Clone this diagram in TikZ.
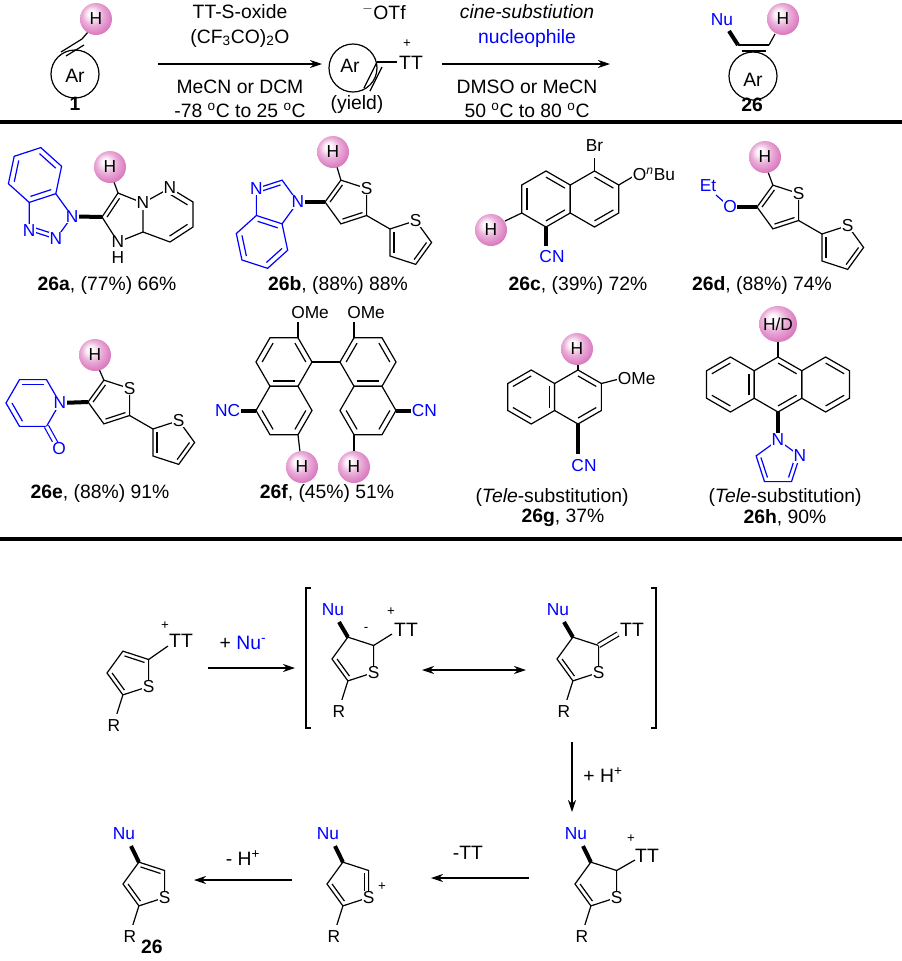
\documentclass[tikz,border=0pt]{standalone}
\usepackage{fontspec}
\setmainfont{Liberation Sans}
\usetikzlibrary{calc,arrows.meta}
\definecolor{hpink}{RGB}{222,130,196}
\definecolor{nblue}{RGB}{0,0,255}
\pgfdeclareradialshading{hbal}{\pgfpoint{-8bp}{9bp}}{color(0bp)=(white); color(6bp)=(white!92!hpink); color(16bp)=(hpink!65!white); color(26bp)=(hpink); color(33bp)=(hpink!88!black); color(50bp)=(hpink!88!black)}
\newcommand\fs{\fontsize{14.5}{17}\selectfont}
\newcommand\fa{\fontsize{13}{15}\selectfont}
\newcommand\fp{\fontsize{10}{12}\selectfont}
\tikzset{bd/.style={line width=0.9pt},bold/.style={line width=3pt},
 atom/.style={fill=white,inner sep=0.5pt,font=\fa},
 batom/.style={atom,text=nblue},
 lab/.style={inner sep=0pt,font=\fs},
 plus/.style={inner sep=0pt,font=\fp},
 rx/.style={line width=0.9pt,-{Stealth[length=9pt,width=6pt]}},
 dbb/.style={line width=0.9pt,double=white,double distance=2.4pt}}
\newcommand\pc[5]{\coordinate (#1) at ($(#2,#3)+(#5:#4)$);}
\newcommand\dbl[4][]{\draw[bd,#1] ($(#2)!0.22!(#4)$) -- ($(#3)!0.22!(#4)$);}
\newcommand\hball[4]{\shade[shading=hbal] (#2,#3) circle (16);\node[lab,font=\fa] (#1) at (#2,#3) {#4};}
\newcommand\hexP[5][]{\coordinate (#2c) at (#3,#4);
 \pc{#21}{#3}{#4}{#5}{-90}\pc{#22}{#3}{#4}{#5}{-30}\pc{#23}{#3}{#4}{#5}{30}
 \pc{#24}{#3}{#4}{#5}{90}\pc{#25}{#3}{#4}{#5}{150}\pc{#26}{#3}{#4}{#5}{210}
 \draw[bd,#1] (#21)--(#22)--(#23)--(#24)--(#25)--(#26)--cycle;}
\newcommand\hexF[5][]{\coordinate (#2c) at (#3,#4);
 \pc{#21}{#3}{#4}{#5}{0}\pc{#22}{#3}{#4}{#5}{60}\pc{#23}{#3}{#4}{#5}{120}
 \pc{#24}{#3}{#4}{#5}{180}\pc{#25}{#3}{#4}{#5}{240}\pc{#26}{#3}{#4}{#5}{300}
 \draw[bd,#1] (#21)--(#22)--(#23)--(#24)--(#25)--(#26)--cycle;}
\newcommand\thA[3]{\coordinate (#1c) at (#2,#3);
 \pc{#1C3}{#2}{#3}{23}{180}\pc{#1C2}{#2}{#3}{23}{252}\pc{#1S}{#2}{#3}{23}{324}
 \pc{#1C5}{#2}{#3}{23}{36}\pc{#1C4}{#2}{#3}{23}{108}
 \draw[bd] (#1C3)--(#1C2)--(#1S)--(#1C5)--(#1C4)--cycle;
 \dbl{#1C2}{#1C3}{#1c}\dbl{#1C4}{#1C5}{#1c}}
\newcommand\thB[3]{\coordinate (#1c) at (#2,#3);
 \pc{#1C2}{#2}{#3}{23}{-144}\pc{#1S}{#2}{#3}{23}{-72}\pc{#1C5}{#2}{#3}{23}{0}
 \pc{#1C4}{#2}{#3}{23}{72}\pc{#1C3}{#2}{#3}{23}{144}
 \draw[bd] (#1C2)--(#1S)--(#1C5)--(#1C4)--(#1C3)--cycle;
 \dbl{#1C2}{#1C3}{#1c}\dbl{#1C4}{#1C5}{#1c}}
\newcommand\thM[3]{\coordinate (#1c) at (#2,#3);
 \pc{#1S}{#2}{#3}{23}{36}\pc{#1C2}{#2}{#3}{23}{-36}\pc{#1C3}{#2}{#3}{23}{-108}
 \pc{#1C4}{#2}{#3}{23}{180}\pc{#1C5}{#2}{#3}{23}{108}
 \draw[bd] (#1S)--(#1C2)--(#1C3)--(#1C4)--(#1C5)--cycle;
 \dbl{#1C4}{#1C5}{#1c}
 \draw[bd] (#1C5)--++(-6,19);
 \node[lab,font=\fa] (#1R) at ($(#1C5)+(-9,31)$) {R};}
\begin{document}
\begin{tikzpicture}[x=0.75pt,y=-0.75pt]
\useasboundingbox (0,0) rectangle (902,961);
\fill[white] (0,0) rectangle (902,961);
% ---------------- top scheme
\draw[bd] (75,74) circle (24);
\node[lab] (ar1) at (75,76) {Ar};
\draw[bd] (61,52)--(82,39);
\draw[bd] (66,56)--(84,45);
\draw[bd] (82,39)--(88,32);
\hball{h1}{96}{19}{H}
\node[lab,font=\fs\bfseries] (c1) at (75,104) {1};
\coordinate (a1s) at (158,64); \coordinate (a1e) at (322,64);
\draw[rx] (a1s)--(a1e);
\node[lab] (t1) at (240,12) {TT-S-oxide};
\node[lab] (t2) at (240,38) {(CF\textsubscript{3}CO)\textsubscript{2}O};
\node[lab] (t3) at (240,87) {MeCN or DCM};
\node[lab] (t4) at (240,110) {-78 \textsuperscript{o}C to 25 \textsuperscript{o}C};
\draw[bd] (353,68) circle (24);
\node[lab] (ar2) at (350,66) {Ar};
\draw[bd] (364,88)--(377,62);
\draw[bd] (370,91)--(382,67);
\draw[bd] (377,62)--(397,62);
\node[lab] (tt1) at (411,63) {TT};
\node[plus] (pl1) at (407,44) {+};
\node[lab] (otf) at (384,12) {$^{-}$OTf};
\node[lab] (yld) at (357,104) {(yield)};
\coordinate (a2s) at (442,64); \coordinate (a2e) at (610,64);
\draw[rx] (a2s)--(a2e);
\node[lab] (t5) at (527,12) {\itshape cine-substiution};
\node[lab,nblue] (t6) at (527,38) {nucleophile};
\node[lab] (t7) at (527,87) {DMSO or MeCN};
\node[lab] (t8) at (527,110) {50 \textsuperscript{o}C to 80 \textsuperscript{o}C};
\draw[bd] (753,76) circle (24);
\node[lab] (ar3) at (753,80) {Ar};
\draw[bd] (738,45)--(769,45);
\draw[bd] (742,51)--(766,51);
\draw[bold] (738,45)--(729,31);
\node[lab,nblue,font=\fa] (nu0) at (722,20) {Nu};
\draw[bd] (769,45)--(775,34);
\hball{h2}{783}{19}{H}
\node[lab,font=\fs\bfseries] (c26t) at (752,105) {26};
\draw[line width=2.4pt] (0,122)--(902,122);
% ---------------- 26a
\coordinate (aB1) at (55.8,193.7); \coordinate (aB2) at (29.2,202.4);
\coordinate (aB3) at (8.4,183.7); \coordinate (aB4) at (14.2,156.3);
\coordinate (aB5) at (40.8,147.6); \coordinate (aB6) at (61.6,166.3);
\coordinate (aBc) at (35,175);
\coordinate (aN1) at (72.2,216.4); \coordinate (aN2) at (55.8,239);
\coordinate (aN3) at (29.2,230.4); \coordinate (aTc) at (48.4,216.4);
\draw[bd,nblue] (aB1)--(aB2)--(aB3)--(aB4)--(aB5)--(aB6)--cycle;
\draw[bd,nblue] (aB1)--(aN1)--(aN2)--(aN3)--(aB2);
\dbl[nblue]{aB5}{aB6}{aBc}\dbl[nblue]{aB3}{aB4}{aBc}\dbl[nblue]{aB1}{aB2}{aBc}\dbl[nblue]{aN2}{aN3}{aTc}
\coordinate (aC2) at (102,217); \coordinate (aC3) at (118,193);
\coordinate (aN4) at (143,203); \coordinate (aC8a) at (143,232);
\coordinate (aNH) at (118,242); \coordinate (aIc) at (125,217);
\coordinate (aN5) at (170,188); \coordinate (aC6) at (193,202);
\coordinate (aC7) at (193,227); \coordinate (aC8) at (170,242); \coordinate (aPc) at (168,215);
\draw[bold] (aN1)--(aC2);
\draw[bd] (aC2)--(aC3)--(aN4)--(aC8a)--(aNH)--cycle;
\draw[bd] (aN4)--(aN5)--(aC6)--(aC7)--(aC8)--(aC8a);
\dbl{aC2}{aC3}{aIc}\dbl{aN5}{aC6}{aPc}\dbl{aC7}{aC8}{aPc}
\draw[bd] (aC3)--(114,182);
\hball{aH}{110}{167}{H}
\node[batom] (aN1l) at (aN1) {N};
\node[batom] (aN2l) at (aN2) {N};
\node[batom] (aN3l) at (aN3) {N};
\node[atom] (aN4l) at (aN4) {N};
\node[atom] (aN5l) at (aN5) {N};
\node[atom] (aNHl) at (aNH) {N};
\node[atom] (aHH) at (118,258) {H};
\node[lab] (l26a) at (107,285) {\textbf{26a}, (77\%) 66\%};
% ---------------- 26b
\thA{b}{348}{202}
\thB{bb}{408.6}{242.5}
\draw[bd] (bC5)--(bbC2);
\coordinate (bN1) at (298,202);
\pc{bC2i}{275}{202}{23}{-72}\pc{bN3}{275}{202}{23}{-144}
\coordinate (bIc) at (275,202);
\pc{bB1}{262}{241.9}{27}{-102}\pc{bB2}{262}{241.9}{27}{-42}\pc{bB3}{262}{241.9}{27}{18}
\pc{bB4}{262}{241.9}{27}{78}\pc{bB5}{262}{241.9}{27}{138}\pc{bB6}{262}{241.9}{27}{198}
\coordinate (bBc) at (262,241.9);
\draw[bd,nblue] (bB1)--(bB2)--(bB3)--(bB4)--(bB5)--(bB6)--cycle;
\draw[bd,nblue] (bB2)--(bN1)--(bC2i)--(bN3)--(bB1);
\dbl[nblue]{bC2i}{bN3}{bIc}\dbl[nblue]{bB3}{bB4}{bBc}\dbl[nblue]{bB5}{bB6}{bBc}\dbl[nblue]{bB1}{bB2}{bBc}
\draw[bold] (bN1)--(bC3);
\draw[bd] (bC2)--(337,167);
\hball{bH}{333}{152}{H}
\node[atom] (bSl) at (bS) {S};
\node[atom] (bbSl) at (bbS) {S};
\node[batom] (bN1l) at (bN1) {N};
\node[batom] (bN3l) at (bN3) {N};
\node[lab] (l26b) at (338,285) {\textbf{26b}, (88\%) 88\%};
% ---------------- 26c
\hexP{cL}{546}{199}{28}
\hexP{cR}{594.5}{199}{28}
\dbl{cL6}{cL5}{cLc}\dbl{cL1}{cL2}{cLc}\dbl{cL4}{cL3}{cLc}
\dbl{cR1}{cR2}{cRc}\dbl{cR3}{cR4}{cRc}
\draw[bd] (cR1)--(594.5,158);
\node[lab,font=\fa] (cBr) at (594.5,146) {Br};
\draw[bd] (cR2)--(634,176);
\node[atom,anchor=west] (cO) at (632,174) {O\textsuperscript{\itshape n}Bu};
\draw[bold] (cL4)--(546,246);
\node[batom] (cCN) at (552,257) {CN};
\draw[bd] (cL5)--(505,221);
\hball{cH}{491}{230}{H}
\node[lab] (l26c) at (578,285) {\textbf{26c}, (39\%) 72\%};
% ---------------- 26d
\thA{d}{780}{207}
\thB{dd}{840.6}{247.5}
\draw[bd] (dC5)--(ddC2);
\coordinate (dO) at (730,207);
\draw[bold] (dC3)--(dO);
\draw[bd,nblue] (716,195)--(724,202);
\draw[bd] (dC2)--(768,172);
\hball{dH}{765}{157}{H}
\node[atom] (dSl) at (dS) {S};
\node[atom] (ddSl) at (ddS) {S};
\node[batom] (dOl) at (dO) {O};
\node[lab,nblue,font=\fa] (dEt) at (708,186) {Et};
\node[lab] (l26d) at (762,285) {\textbf{26d}, (88\%) 74\%};
% ---------------- 26e
\thA{e}{111}{402}
\thB{ee}{171.6}{442.5}
\draw[bd] (eC5)--(eeC2);
\hexF[nblue]{ep}{33}{403}{27}
\dbl[nblue]{ep5}{ep6}{epc}\dbl[nblue]{ep3}{ep4}{epc}
\coordinate (eO) at (59,449);
\draw[dbb,nblue] (ep2)--(eO);
\draw[bold] (eC3)--(ep1);
\draw[bd] (eC2)--(99,369);
\hball{eH}{95}{355}{H}
\node[atom] (eSl) at (eS) {S};
\node[atom] (eeSl) at (eeS) {S};
\node[batom] (eNl) at (ep1) {N};
\node[batom] (eOl) at (eO) {O};
\node[lab] (l26e) at (100,493) {\textbf{26e}, (88\%) 91\%};
% ---------------- 26f
\hexF{fA}{284}{362}{28}
\hexF{fB}{284}{410.5}{28}
\hexF{fC}{368}{362}{28}
\hexF{fD}{368}{410.5}{28}
\dbl{fA3}{fA2}{fAc}\dbl{fA6}{fA1}{fAc}\dbl{fA4}{fA5}{fAc}
\dbl{fB1}{fB2}{fBc}\dbl{fB3}{fB4}{fBc}
\dbl{fC3}{fC2}{fCc}\dbl{fC6}{fC1}{fCc}\dbl{fC4}{fC5}{fCc}
\dbl{fD1}{fD2}{fDc}\dbl{fD3}{fD4}{fDc}
\draw[bd] (fA1)--(fC4);
\draw[bd] (fA6)--(298,322);
\draw[bd] (fC5)--(354,322);
\node[lab,font=\fa,anchor=west] (fOa) at (291,313) {OMe};
\node[lab,font=\fa,anchor=west] (fOb) at (347,313) {OMe};
\draw[bold] (fB4)--(240,410.5);
\node[batom,anchor=east] (fNC) at (241,411) {NC};
\draw[bold] (fD1)--(412,410.5);
\node[batom,anchor=west] (fCN) at (411,411) {CN};
\draw[bd] (fB2)--(300,452);
\hball{fH1}{302}{467}{H}
\draw[bd] (fD3)--(354,452);
\hball{fH2}{354}{467}{H}
\node[lab] (l26f) at (327,493) {\textbf{26f}, (45\%) 51\%};
% ---------------- 26g
\hexP{gR}{578}{397}{27}
\hexP{gL}{531.2}{397}{27}
\dbl{gR1}{gR2}{gRc}\dbl{gR3}{gR4}{gRc}
\dbl{gL2}{gL3}{gLc}\dbl{gL1}{gL6}{gLc}\dbl{gL5}{gL4}{gLc}
\draw[bd] (gR1)--(578,362);
\hball{gH}{577}{349}{H}
\draw[bd] (gR2)--(619,379);
\node[atom,anchor=west] (gO) at (617,379) {OMe};
\draw[bold] (gR4)--(578,454);
\node[batom] (gCN) at (584,466) {CN};
\node[lab] (tg) at (552,497) {(\textit{Tele}-substitution)};
\node[lab] (l26g) at (563,518) {\textbf{26g}, 37\%};
% ---------------- 26h
\hexP{hM}{778}{384.5}{27.5}
\hexP{hL}{730.4}{384.5}{27.5}
\hexP{hR}{825.6}{384.5}{27.5}
\dbl{hM1}{hM2}{hMc}\dbl{hM3}{hM4}{hMc}
\dbl{hL2}{hL3}{hLc}\dbl{hL1}{hL6}{hLc}\dbl{hL5}{hL4}{hLc}
\dbl{hR1}{hR2}{hRc}\dbl{hR3}{hR4}{hRc}
\draw[bd] (hM1)--(778,340);
\shade[shading=hbal] (778,324) ellipse (19 and 18);
\node[lab,font=\fa] (hHD) at (778,324) {H/D};
\coordinate (hPc) at (778,463);
\pc{hP1}{778}{463}{23}{-90}\pc{hP2}{778}{463}{23}{-18}\pc{hP3}{778}{463}{23}{54}
\pc{hP4}{778}{463}{23}{126}\pc{hP5}{778}{463}{23}{198}
\draw[bd,nblue] (hP1)--(hP2)--(hP3)--(hP4)--(hP5)--cycle;
\dbl[nblue]{hP2}{hP3}{hPc}\dbl[nblue]{hP4}{hP5}{hPc}
\draw[bold] (hM4)--(hP1);
\node[batom] (hN1) at (hP1) {N};
\node[batom] (hN2) at (hP2) {N};
\node[lab] (th) at (785,497) {(\textit{Tele}-substitution)};
\node[lab] (l26h) at (785,518) {\textbf{26h}, 90\%};
\draw[line width=2.4pt] (0,539)--(902,539);
% ---------------- mechanism
\thM{m1}{130}{673}
\dbl{m1C2}{m1C3}{m1c}
\draw[bd] (m1C2)--(168,646);
\node[lab] (m1TT) at (181,641) {TT};
\node[plus] (m1p) at (165,626) {+};
\node[atom] (m1Sl) at (m1S) {S};
\thM{m2}{355}{659}
\draw[bold] (m2C3)--(339,622);
\node[lab,nblue,font=\fa] (m2Nu) at (333,610) {Nu};
\draw[bd] (m2C2)--(392,634);
\node[lab] (m2TT) at (406,630) {TT};
\node[plus] (m2p) at (391,612) {+};
\node[plus] (m2m) at (366,629) {-};
\node[atom] (m2Sl) at (m2S) {S};
\thM{m3}{580}{659}
\draw[bold] (m3C3)--(564,622);
\node[lab,nblue,font=\fa] (m3Nu) at (558,610) {Nu};
\draw[dbb] (m3C2)--(618,634);
\node[lab] (m3TT) at (632,630) {TT};
\node[atom] (m3Sl) at (m3S) {S};
\thM{m4}{598}{884}
\draw[bold] (m4C3)--(583,846);
\node[lab,nblue,font=\fa] (m4Nu) at (576,834) {Nu};
\draw[bd] (m4C2)--(635,860);
\node[lab] (m4TT) at (647,856) {TT};
\node[plus] (m4p) at (631,839) {+};
\node[atom] (m4Sl) at (m4S) {S};
\thM{m5}{350}{884}
\draw[bold] (m5C3)--(335,846);
\node[lab,nblue,font=\fa] (m5Nu) at (328,834) {Nu};
\dbl{m5C2}{m5S}{m5c}
\node[atom] (m5Sl) at (m5S) {S};
\node[plus] (m5p) at (382,887) {+};
\thM{m6}{146}{884}
\draw[bold] (m6C3)--(131,846);
\node[lab,nblue,font=\fa] (m6Nu) at (124,834) {Nu};
\dbl{m6C2}{m6C3}{m6c}
\node[atom] (m6Sl) at (m6S) {S};
\node[lab,font=\fs\bfseries] (m26) at (152,947) {26};
% brackets
\draw[bd] (311,588)--(306,588)--(306,728)--(311,728);
\draw[bd] (651,588)--(656,588)--(656,728)--(651,728);
% arrows
\coordinate (r1s) at (208,668); \coordinate (r1e) at (295,668);
\draw[rx] (r1s)--(r1e);
\node[lab] (r1l) at (243,643) {+ \textcolor{nblue}{Nu\textsuperscript{-}}};
\coordinate (r2s) at (422,670); \coordinate (r2e) at (526,670);
\draw[line width=0.9pt,{Stealth[length=9pt,width=6pt]}-{Stealth[length=9pt,width=6pt]}] (r2s)--(r2e);
\coordinate (r3s) at (572,742); \coordinate (r3e) at (572,812);
\draw[rx] (r3s)--(r3e);
\node[lab] (r3l) at (603,775) {+ H\textsuperscript{+}};
\coordinate (r4s) at (529,878); \coordinate (r4e) at (431,878);
\draw[rx] (r4s)--(r4e);
\node[lab] (r4l) at (468,853) {-TT};
\coordinate (r5s) at (292,880); \coordinate (r5e) at (194,880);
\draw[rx] (r5s)--(r5e);
\node[lab] (r5l) at (243,858) {- H\textsuperscript{+}};
\end{tikzpicture}
\end{document}
